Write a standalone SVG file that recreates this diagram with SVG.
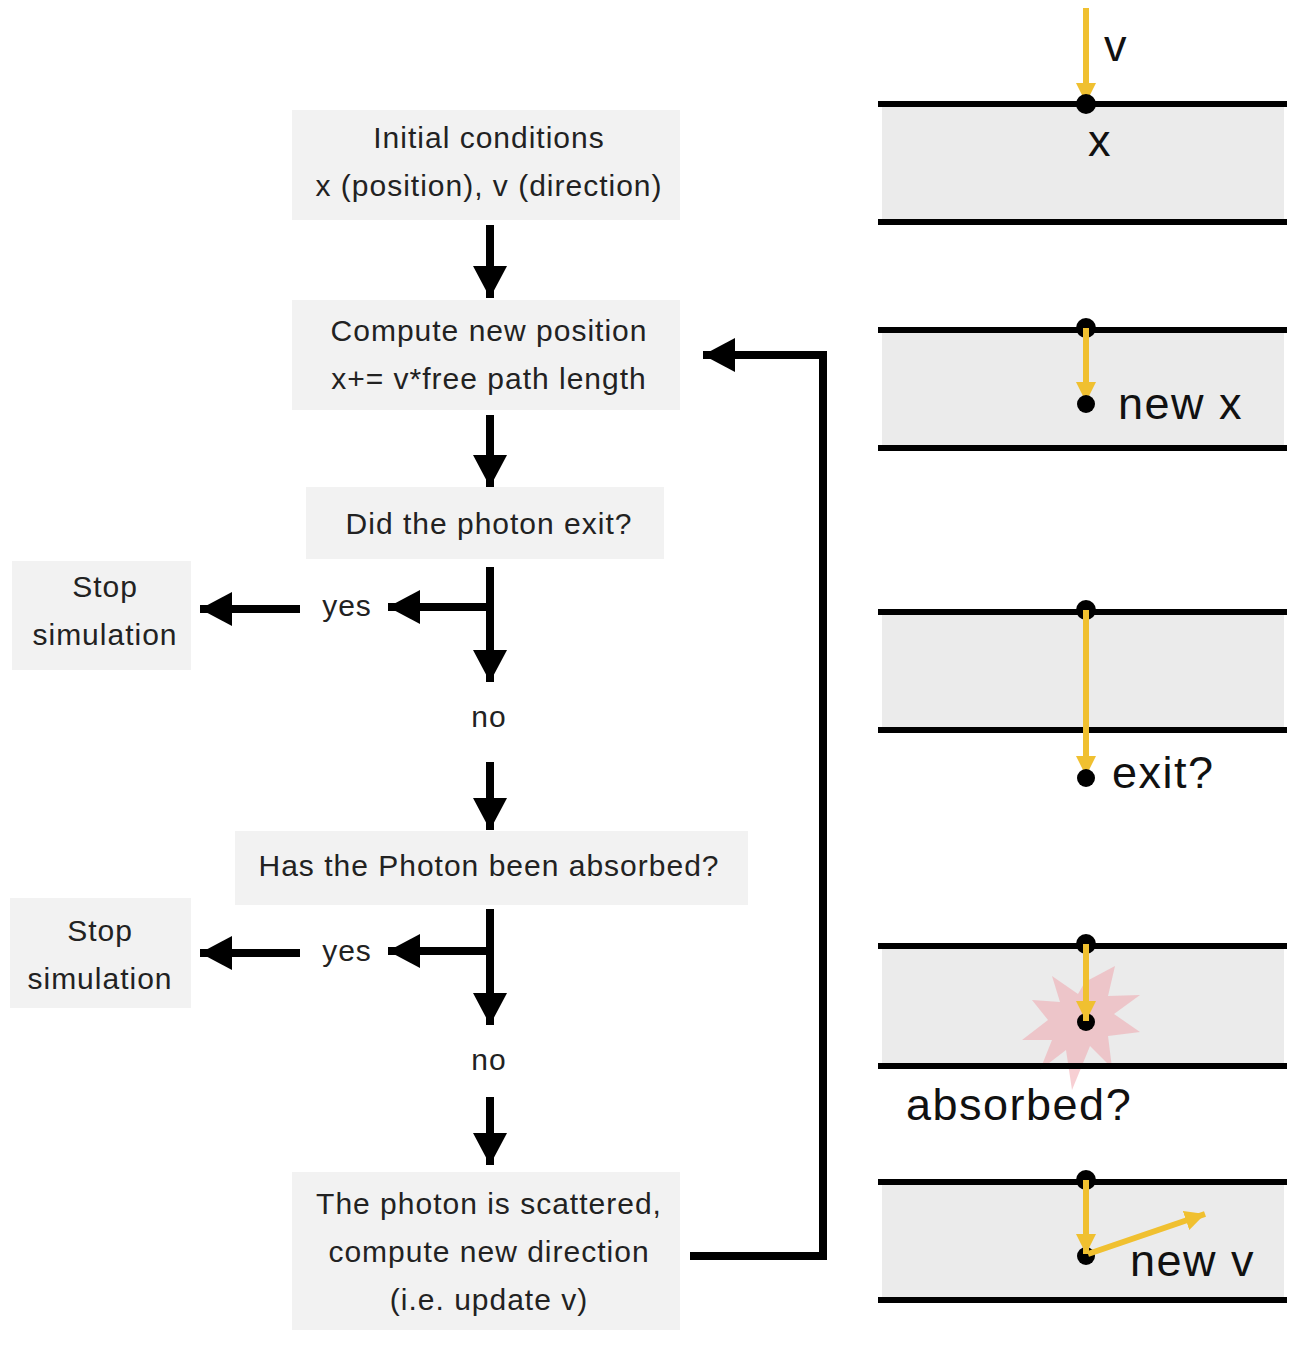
<svg xmlns="http://www.w3.org/2000/svg" width="1304" height="1356" viewBox="0 0 1304 1356">
<style>
.box{fill:#f2f2f2}
.t{font-family:"Liberation Sans",Arial,sans-serif;font-size:30px;letter-spacing:1px;fill:#222;text-anchor:middle}
.big{font-family:"Liberation Sans",Arial,sans-serif;font-size:45px;letter-spacing:1.5px;fill:#111}
.ln{stroke:#000;stroke-width:8;fill:none}
.band{fill:#ebebeb}
.edge{stroke:#000;stroke-width:6}
.y{stroke:#f0c030;stroke-width:6;fill:none}
</style>
<defs>
<marker id="ah" markerUnits="userSpaceOnUse" markerWidth="34" markerHeight="34" refX="32" refY="17" orient="auto"><path d="M0,0 L32,17 L0,34 Z" fill="#000"/></marker>
<marker id="ya" markerUnits="userSpaceOnUse" markerWidth="22" markerHeight="22" refX="20" refY="11" orient="auto"><path d="M0,1 L20,11 L0,21 Z" fill="#f0c030"/></marker>
</defs>
<g id="n1"><rect class="box" x="292" y="110" width="388" height="110"/><text class="t" x="489" y="148">Initial conditions</text><text class="t" x="489" y="196">x (position), v (direction)</text></g>
<g id="n2"><rect class="box" x="292" y="300" width="388" height="110"/><text class="t" x="489" y="341">Compute new position</text><text class="t" x="489" y="389">x+= v*free path length</text></g>
<g id="n3"><rect class="box" x="306" y="487" width="358" height="72"/><text class="t" x="489" y="534">Did the photon exit?</text></g>
<g id="s1"><rect class="box" x="12" y="561" width="179" height="109"/><text class="t" x="105" y="597">Stop</text><text class="t" x="105" y="645">simulation</text></g>
<g id="n4"><rect class="box" x="235" y="831" width="513" height="74"/><text class="t" x="489" y="876">Has the Photon been absorbed?</text></g>
<g id="s2"><rect class="box" x="10" y="898" width="181" height="110"/><text class="t" x="100" y="941">Stop</text><text class="t" x="100" y="989">simulation</text></g>
<g id="n5"><rect class="box" x="292" y="1172" width="388" height="158"/><text class="t" x="489" y="1214">The photon is scattered,</text><text class="t" x="489" y="1262">compute new direction</text><text class="t" x="489" y="1310">(i.e. update v)</text></g>
<g id="labels"><text class="t" x="347" y="616">yes</text><text class="t" x="489" y="727">no</text><text class="t" x="347" y="961">yes</text><text class="t" x="489" y="1070">no</text></g>
<g id="connectors">
<line class="ln" x1="490" y1="225" x2="490" y2="298" marker-end="url(#ah)"/>
<line class="ln" x1="490" y1="415" x2="490" y2="487" marker-end="url(#ah)"/>
<line class="ln" x1="490" y1="567" x2="490" y2="682" marker-end="url(#ah)"/>
<line class="ln" x1="490" y1="607" x2="388" y2="607" marker-end="url(#ah)"/>
<line class="ln" x1="300" y1="609" x2="200" y2="609" marker-end="url(#ah)"/>
<line class="ln" x1="490" y1="762" x2="490" y2="830" marker-end="url(#ah)"/>
<line class="ln" x1="490" y1="909" x2="490" y2="1025" marker-end="url(#ah)"/>
<line class="ln" x1="490" y1="951" x2="388" y2="951" marker-end="url(#ah)"/>
<line class="ln" x1="300" y1="953" x2="200" y2="953" marker-end="url(#ah)"/>
<line class="ln" x1="490" y1="1097" x2="490" y2="1165" marker-end="url(#ah)"/>
<polyline class="ln" points="690,1256 823,1256 823,355 703,355" marker-end="url(#ah)"/>
</g>
<g id="illustration">
<rect class="band" x="882" y="104" width="402" height="118"/>
<line class="edge" x1="878" y1="104" x2="1287" y2="104"/><line class="edge" x1="878" y1="222" x2="1287" y2="222"/>
<line class="y" x1="1086" y1="8" x2="1086" y2="103" marker-end="url(#ya)"/>
<circle cx="1086" cy="104" r="10"/>
<text class="big" x="1104" y="61">v</text>
<text class="big" x="1088" y="156">x</text>

<rect class="band" x="882" y="330" width="402" height="118"/>
<line class="edge" x1="878" y1="330" x2="1287" y2="330"/><line class="edge" x1="878" y1="448" x2="1287" y2="448"/>
<circle cx="1086" cy="328" r="10"/>
<line class="y" x1="1086" y1="328" x2="1086" y2="402" marker-end="url(#ya)"/>
<circle cx="1086" cy="404" r="9"/>
<text class="big" x="1118" y="419">new x</text>

<rect class="band" x="882" y="612" width="402" height="118"/>
<line class="edge" x1="878" y1="612" x2="1287" y2="612"/><line class="edge" x1="878" y1="730" x2="1287" y2="730"/>
<circle cx="1086" cy="610" r="10"/>
<line class="y" x1="1086" y1="610" x2="1086" y2="776" marker-end="url(#ya)"/>
<circle cx="1086" cy="778" r="9"/>
<text class="big" x="1112" y="788">exit?</text>

<rect class="band" x="882" y="946" width="402" height="120"/>
<polygon fill="#f0a0a8" opacity="0.5" points="1085,982 1115,966 1108,996 1140,995 1114,1014 1140,1032 1108,1036 1112,1068 1090,1046 1072,1090 1066,1050 1040,1070 1052,1040 1022,1040 1048,1020 1032,1000 1060,1002 1052,976 1078,994"/>
<line class="edge" x1="878" y1="946" x2="1287" y2="946"/><line class="edge" x1="878" y1="1066" x2="1287" y2="1066"/>
<circle cx="1086" cy="944" r="10"/>
<circle cx="1086" cy="1022" r="9"/>
<line class="y" x1="1086" y1="944" x2="1086" y2="1021" marker-end="url(#ya)"/>
<text class="big" x="906" y="1120">absorbed?</text>

<rect class="band" x="882" y="1182" width="402" height="118"/>
<line class="edge" x1="878" y1="1182" x2="1287" y2="1182"/><line class="edge" x1="878" y1="1300" x2="1287" y2="1300"/>
<circle cx="1086" cy="1180" r="10"/>
<circle cx="1086" cy="1256" r="9"/>
<line class="y" x1="1086" y1="1180" x2="1086" y2="1254" marker-end="url(#ya)"/>
<line class="y" x1="1088" y1="1254" x2="1205" y2="1214" marker-end="url(#ya)"/>
<text class="big" x="1130" y="1276">new v</text>
</g>
</svg>
